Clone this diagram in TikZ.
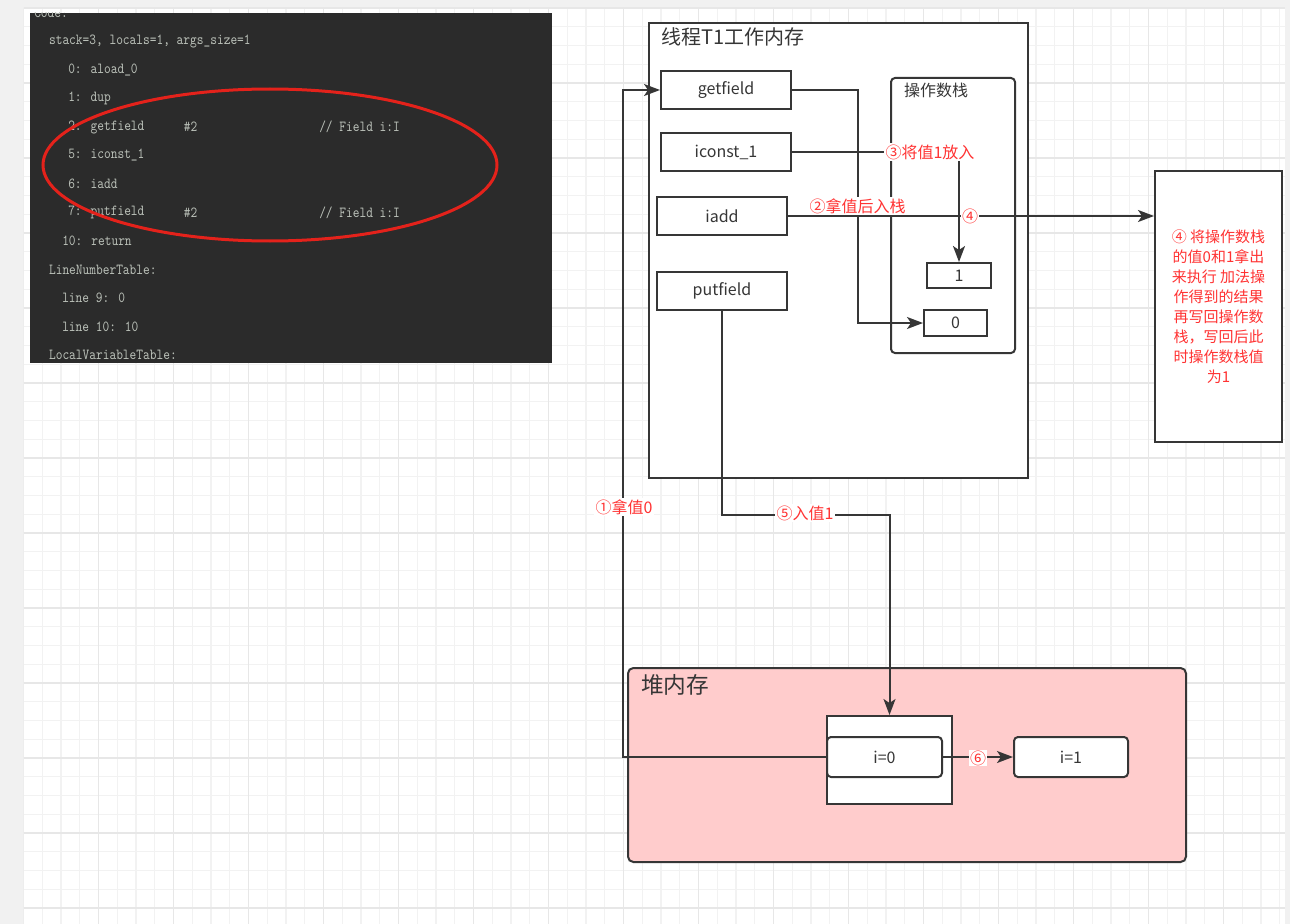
\documentclass[tikz,border=0pt]{standalone}
\usepackage{fontspec}
\usepackage{graphicx}
\setmainfont{Noto Sans CJK SC}
\usetikzlibrary{arrows.meta}
\definecolor{bgc}{HTML}{F1F1F1}
\definecolor{gminor}{HTML}{F2F2F2}
\definecolor{gmajor}{HTML}{E7E7E7}
\definecolor{ln}{HTML}{363636}
\definecolor{redtxt}{HTML}{FF3333}
\definecolor{codebg}{HTML}{2B2B2B}
\definecolor{codetx}{HTML}{BAC0B8}
\definecolor{ellred}{HTML}{E4221B}
\definecolor{heapfill}{HTML}{FFCCCC}
\newcommand\cdl[1]{\scalebox{1}[1.2]{#1}}
\begin{document}
\begin{tikzpicture}[x=0.75pt,y=-0.75pt,
  >={Stealth[length=12pt,width=9pt,inset=3pt]},
  box/.style={draw=ln, line width=1.5pt, fill=white, inner sep=0pt, text=ln, font=\fontsize{12}{14}\selectfont},
  rbox/.style={box, rounded corners=3pt},
  conn/.style={draw=ln, line width=1.5pt},
  lbl/.style={fill=white, text=redtxt, inner sep=1pt, font=\fontsize{12}{14}\selectfont},
  codetxt/.style={anchor=west, text=codetx, inner sep=0pt, font=\ttfamily\fontsize{9.6}{10}\selectfont},
  ttl/.style={text=ln, inner sep=0pt}]
\useasboundingbox (0,0) rectangle (1290,924);
% background and grid
\fill[bgc] (0,0) rectangle (1290,924);
\fill[white] (23.5,8) rectangle (1285,924);
\begin{scope}
\clip (23.5,8) rectangle (1285,924);
\foreach \i in {1,...,67} \draw[gminor, line width=0.8pt] ({23.5+18.75*\i},8) -- ({23.5+18.75*\i},924);
\foreach \i in {1,...,48} \draw[gminor, line width=0.8pt] (23.5,{8+18.75*\i}) -- (1285,{8+18.75*\i});
\foreach \i in {0,...,16} \draw[gmajor, line width=0.8pt] ({23.5+75*\i},8) -- ({23.5+75*\i},924);
\foreach \i in {0,...,12} \draw[gmajor, line width=0.8pt] (23.5,{8+75*\i}) -- (1285,{8+75*\i});
\end{scope}
% code image
\node[fill=codebg, inner sep=0pt, minimum width=391.5pt, minimum height=262.5pt] (code) at (290.5,188) {};
\begin{scope}
\clip (29.5,13) rectangle (551.5,363);
\node[codetxt] (c0) at (34,13) {\cdl{Code:}};
\node[codetxt] (c1) at (48.8,41.5) {\cdl{stack=3, locals=1, args\_size=1}};
\node[codetxt] (c2) at (68,70) {\cdl{0: aload\_0}};
\node[codetxt] (c3) at (68,98.5) {\cdl{1: dup}};
\node[codetxt] (c4) at (68,127) {\cdl{2: getfield}};
\node[codetxt] (c4a) at (183.7,127) {\cdl{\#2}};
\node[codetxt] (c4b) at (319,127) {\cdl{// Field i:I}};
\node[codetxt] (c5) at (68,155.5) {\cdl{5: iconst\_1}};
\node[codetxt] (c6) at (68,184) {\cdl{6: iadd}};
\node[codetxt] (c7) at (68,212.5) {\cdl{7: putfield}};
\node[codetxt] (c7a) at (183.7,212.5) {\cdl{\#2}};
\node[codetxt] (c7b) at (319,212.5) {\cdl{// Field i:I}};
\node[codetxt] (c8) at (62,241) {\cdl{10: return}};
\node[codetxt] (c9) at (48.8,269.5) {\cdl{LineNumberTable:}};
\node[codetxt] (c10) at (62,298) {\cdl{line 9: 0}};
\node[codetxt] (c11) at (62,326.5) {\cdl{line 10: 10}};
\node[codetxt] (c12) at (48.8,355) {\cdl{LocalVariableTable:}};
\end{scope}
\draw[ellred, line width=2.25pt] (270,165) ellipse [x radius=170.25pt, y radius=57pt];
% thread working memory
\node[box, minimum width=284.25pt, minimum height=341.25pt] (t1) at (838.5,250.5) {};
\node[ttl, anchor=west, font=\fontsize{15}{18}\selectfont] (t1title) at (661,37) {线程T1工作内存};
\node[box, minimum width=97.5pt, minimum height=28.5pt] (getfield) at (726,90) {getfield};
\node[box, minimum width=97.5pt, minimum height=28.5pt] (iconst) at (726,152) {iconst\_1};
\node[box, minimum width=97.5pt, minimum height=28.5pt] (iadd) at (722,216) {iadd};
\node[box, minimum width=97.5pt, minimum height=28.5pt] (putfield) at (722,291) {putfield};
\node[rbox, minimum width=93pt, minimum height=206.25pt] (stack) at (953,215.5) {};
\node[ttl, font=\fontsize{12}{14}\selectfont] (stacktitle) at (936,90) {操作数栈};
\node[box, minimum width=48pt, minimum height=18.75pt] (v1) at (959,275.5) {1};
\node[box, minimum width=47.25pt, minimum height=19.5pt] (v0) at (955.5,323) {0};
% note
\node[box, minimum width=95.25pt, minimum height=203.25pt, text=redtxt, align=center, font=\fontsize{11.25}{15}\selectfont] (note) at (1218.5,306.5) {④ 将操作数栈\\的值0和1拿出\\来执行 加法操\\作得到的结果\\再写回操作数\\栈，写回后此\\时操作数栈值\\为1};
% heap
\node[rbox, fill=heapfill, rounded corners=4pt, minimum width=418.5pt, minimum height=145.5pt] (heap) at (907,765) {};
\node[ttl, anchor=west, font=\fontsize{17}{20}\selectfont] (heaptitle) at (641,685) {堆内存};
\node[box, minimum width=93.75pt, minimum height=66pt] (obj) at (889.5,760) {};
\node[rbox, minimum width=86.25pt, minimum height=30pt] (i0) at (884.5,757) {i=0};
\node[rbox, minimum width=85.5pt, minimum height=30pt] (i1) at (1071,757) {i=1};
% connectors
\draw[conn,->] (getfield.east) -- ++(66,0) |- (v0.west);
\draw[conn,->] (iconst.east) -| (v1.north);
\draw[conn,->] (iadd.east) -- (iadd.east -| note.west);
\draw[conn,->] (putfield.south) -- ++(0,204) -| (obj.north);
\draw[conn,->] (i0.west) -- ++(-203,0) |- (getfield.west);
\draw[conn,->] (i0.east) -- (i1.west);
% labels
\node[lbl] (l2) at (857.5,206) {②拿值后入栈};
\node[lbl] (l3) at (930,152) {③将值1放入};
\node[lbl] (l4) at (970,216) {④};
\node[lbl] (l5) at (805,513) {⑤入值1};
\node[lbl] (l1) at (624,507) {①拿值0};
\node[lbl, inner sep=0.5pt] (l6) at (978,758) {⑥};
\end{tikzpicture}
\end{document}
